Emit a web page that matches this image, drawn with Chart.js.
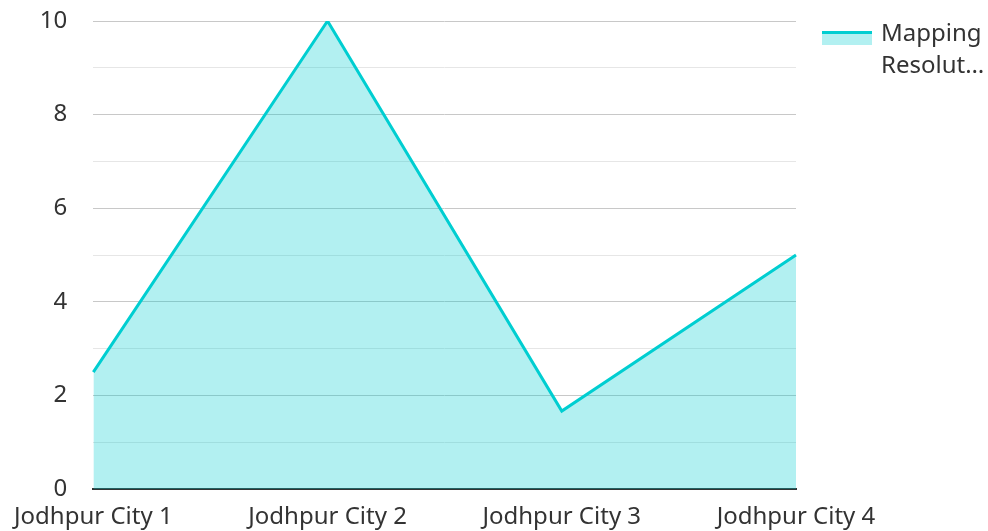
<!DOCTYPE html>
<html>
<head>
<meta charset="utf-8">
<script src="https://cdn.jsdelivr.net/npm/chart.js@4/dist/chart.umd.min.js"></script>
<style>
  html, body { margin: 0; padding: 0; background: #fff; }
  #wrap { position: relative; width: 988px; height: 531px; }
  #legend {
    position: absolute; left: 822px; top: 16px;
    font-family: "Noto Sans", sans-serif; font-size: 24px; color: #333;
    display: flex; align-items: flex-start;
  }
  #legend .swatch {
    width: 50px; height: 14px; margin-top: 15px; margin-right: 9px;
    background: rgba(0, 206, 209, 0.3); border-top: 3px solid #00CED1; box-sizing: border-box;
  }
  #legend .text { line-height: 32px; }
</style>
</head>
<body>
<div id="wrap">
  <canvas id="chart" width="988" height="531"></canvas>
  <div id="legend"><div class="swatch"></div><div class="text">Mapping<br>Resolut…</div></div>
</div>
<script>
const categories = ["Jodhpur City 1", "Jodhpur City 2", "Jodhpur City 3", "Jodhpur City 4"];
const seriesName = "Mapping Resolution";
const seriesValues = [2.5, 10, 1.67, 5];
const yTicks = [0, 2, 4, 6, 8, 10];

const lineColor = "#00CED1";

new Chart(document.getElementById("chart").getContext("2d"), {
  type: "line",
  data: {
    labels: categories,
    datasets: [
      {
        label: seriesName,
        data: seriesValues,
        borderColor: lineColor,
        backgroundColor: "rgba(0, 206, 209, 0.3)",
        borderWidth: 3,
        fill: "origin",
        pointRadius: 0,
        tension: 0,
      },
    ],
  },
  options: {
    responsive: false,
    animation: false,
    layout: { padding: { top: 21, right: 192, left: 16, bottom: -15 } },
    plugins: { legend: { display: false }, tooltip: { enabled: false } },
    scales: {
      x: {
        offset: false,
        grid: { display: false, drawTicks: false },
        border: { display: true, color: "#333", width: 2 },
        ticks: {
          color: "#333",
          padding: 14,
          maxRotation: 0,
          autoSkip: false,
          font: { family: "Noto Sans", size: 24 },
        },
      },
      y: {
        min: 0,
        max: 10,
        border: { display: false },
        afterFit: (scale) => {
          scale.paddingTop = 0;
          scale.paddingBottom = 0;
        },
        grid: {
          drawTicks: true,
          tickLength: 26,
          tickColor: "rgba(0,0,0,0)",
          color: (ctx) => (ctx.tick && yTicks.includes(ctx.tick.value) ? "#c8c8c8" : "#e6e6e6"),
        },
        ticks: {
          stepSize: 1,
          color: "#333",
          padding: 0,
          font: { family: "Noto Sans", size: 24 },
          callback: (v) => (yTicks.includes(v) ? String(v) : ""),
        },
      },
    },
  },
});
</script>
</body>
</html>
